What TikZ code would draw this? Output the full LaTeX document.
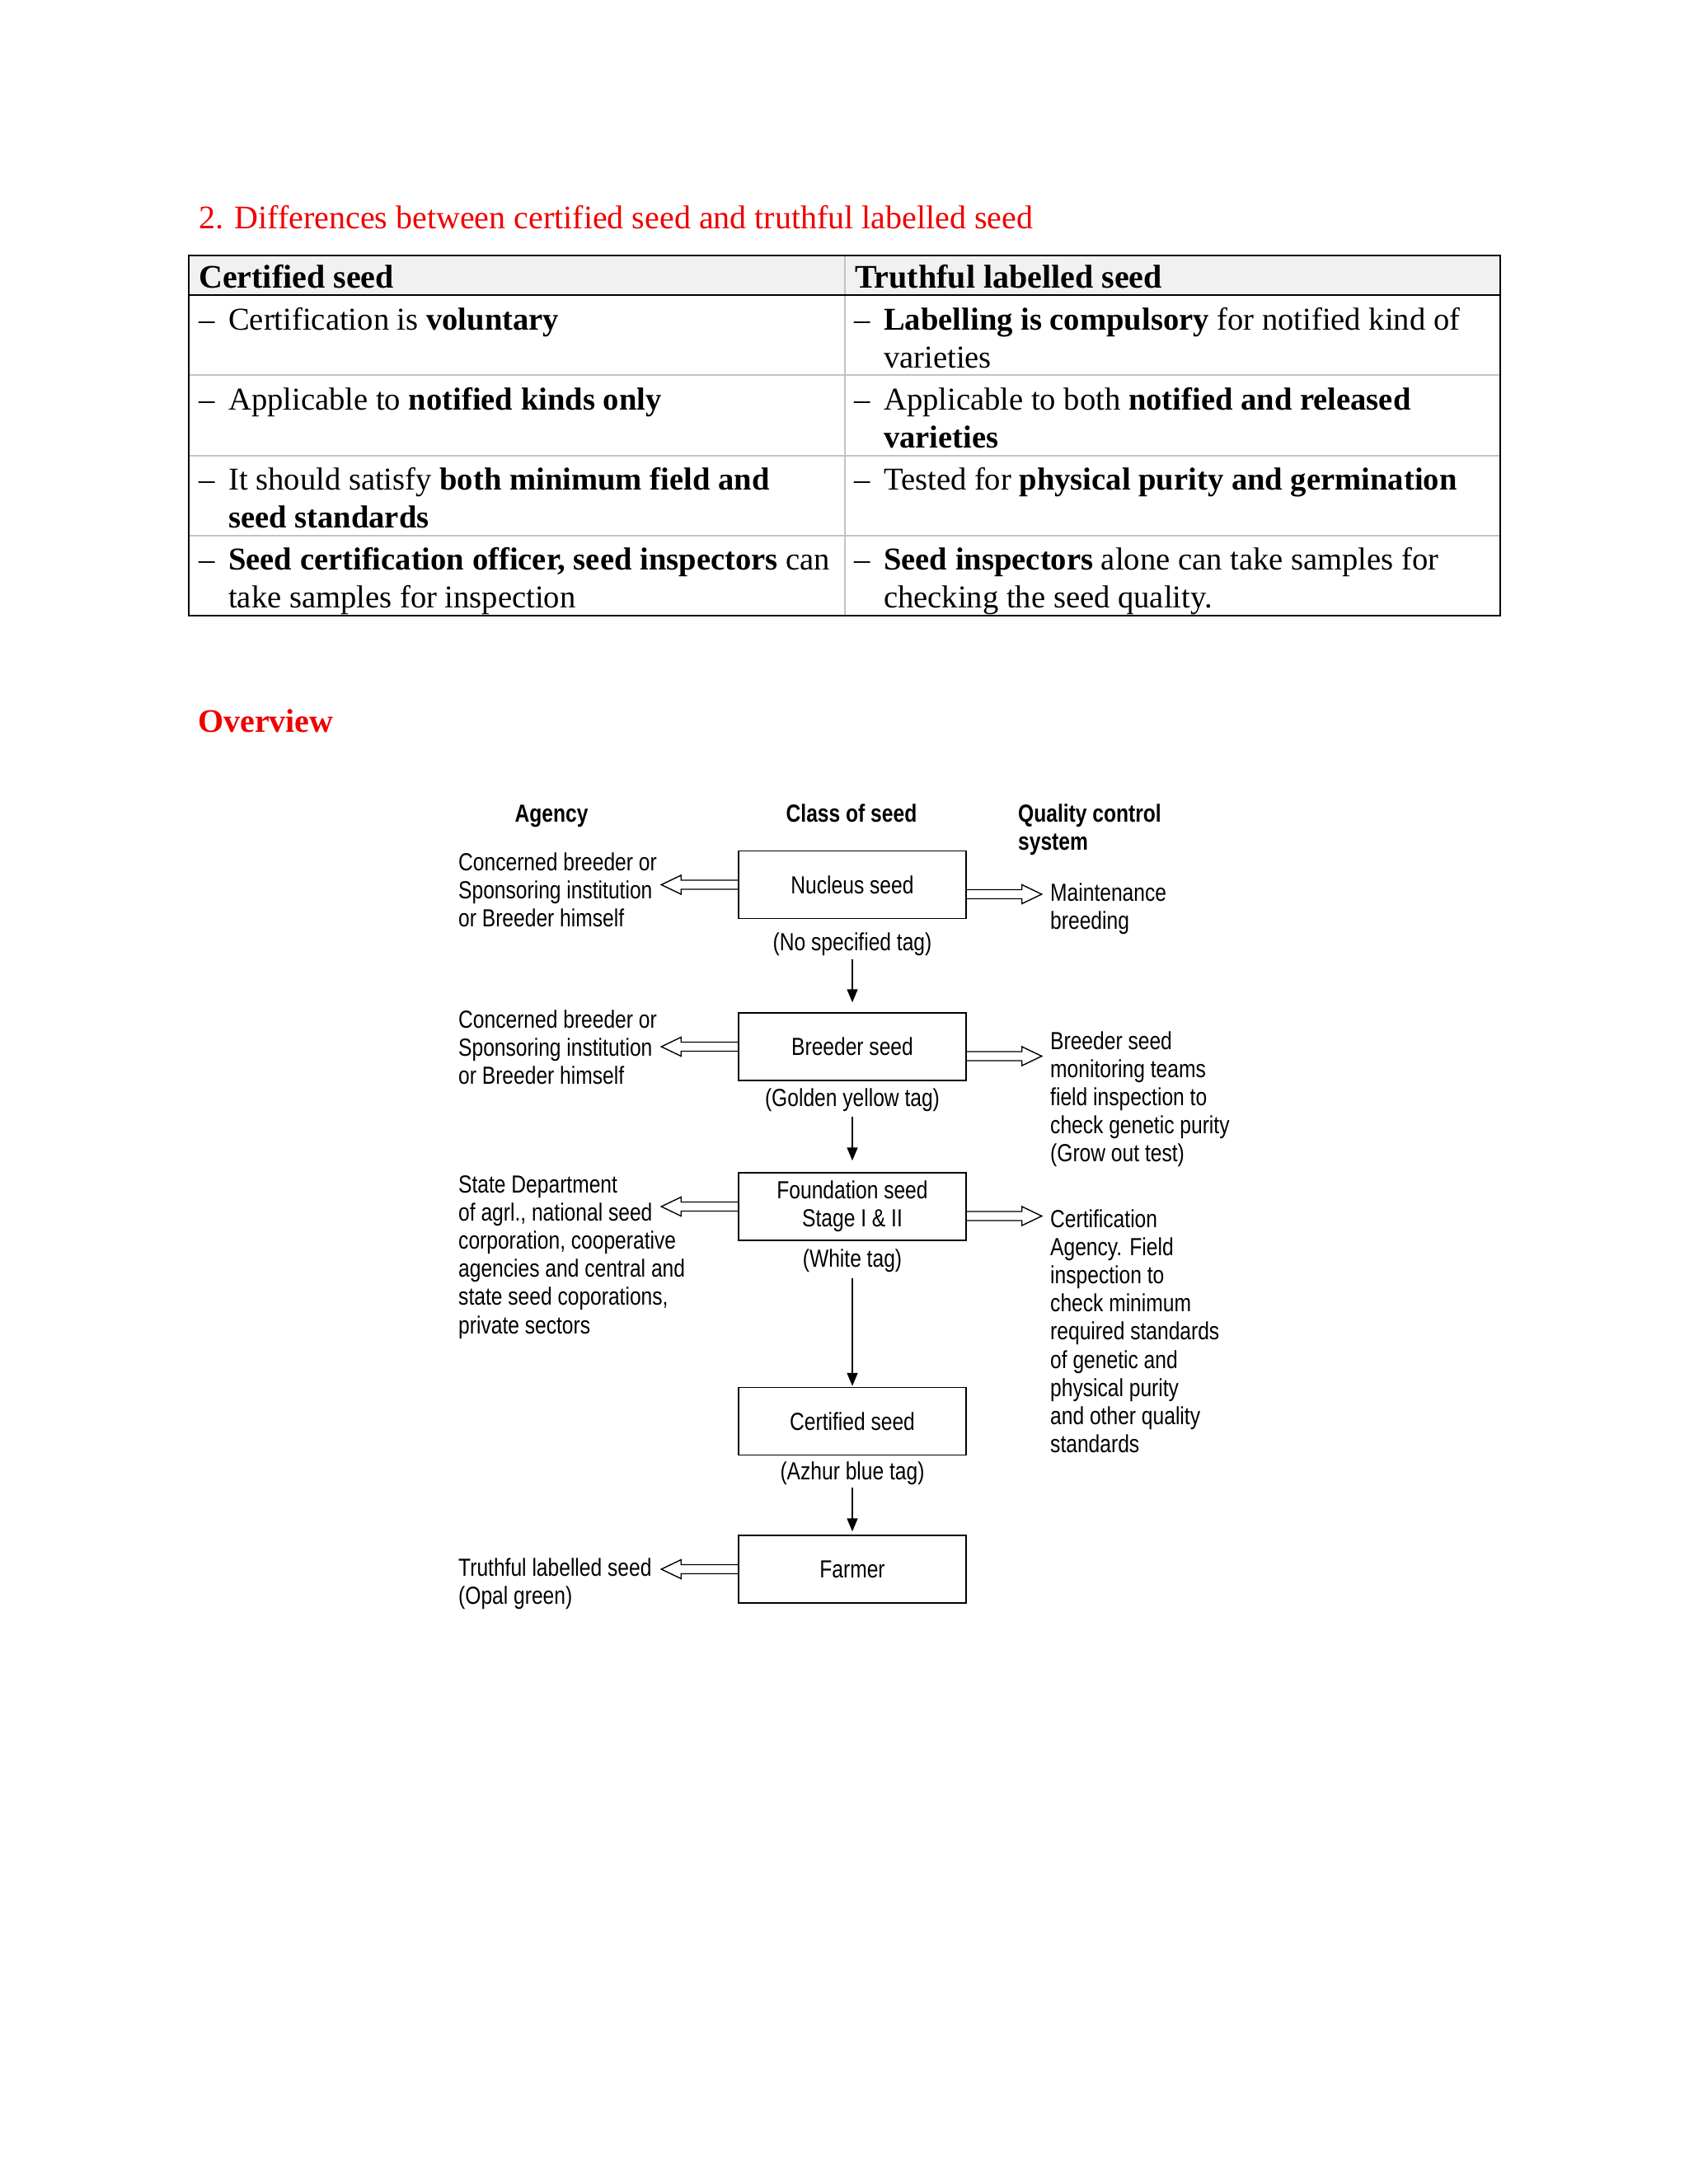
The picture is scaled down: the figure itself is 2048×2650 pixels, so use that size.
\documentclass[tikz,border=0pt]{standalone}
\usepackage{fontspec}
\setmainfont{Liberation Serif}
\newfontfamily\nar[FakeStretch=0.82]{Liberation Sans}
\usetikzlibrary{calc,arrows.meta}
\definecolor{titred}{RGB}{240,0,0}
\definecolor{hdrgray}{RGB}{241,241,241}
\definecolor{rulegray}{RGB}{195,195,195}
\newcommand\lns[1]{\begin{tabular}[t]{@{}l@{}}#1\end{tabular}}
\begin{document}
\begin{tikzpicture}[x=1pt,y=-1pt,
  tt/.style={font=\fontsize{40}{46.5}\selectfont, inner sep=0pt, anchor=base west},
  ttb/.style={font=\bfseries\fontsize{40}{46.5}\selectfont, inner sep=0pt, anchor=base west},
  bt/.style={font=\fontsize{38.6}{46.5}\selectfont, inner sep=0pt, anchor=base west},
  ft/.style={font=\nar\fontsize{30}{34.2}\selectfont, inner sep=0pt},
  ftb/.style={font=\nar\bfseries\fontsize{30}{34.2}\selectfont, inner sep=0pt},
  box/.style={draw, line width=1.5pt, minimum width=276pt, minimum height=82pt,
              font=\nar\fontsize{30}{34.2}\selectfont, align=center, inner sep=0pt},
  flow/.style={line width=1.5pt, -{Triangle[length=16pt,width=13pt]}},
  hollow/.style={line width=1.4pt}]
\fill[white] (0,0) rectangle (2048,2650);
\useasboundingbox (0,0) rectangle (2048,2650);

% ---------- title ----------
\node[tt, text=titred] (title) at (241,277) {2. Differences between certified seed and truthful labelled seed};

% ---------- table ----------
\fill[hdrgray] (229,310) rectangle (1820,358);
\draw[rulegray, line width=1.5pt] (229,455) -- (1820,455) (229,553) -- (1820,553) (229,650) -- (1820,650);
\draw[rulegray, line width=1.3pt] (1025,310) -- (1025,747);
\draw[line width=1.8pt] (229,358) -- (1820,358);
\draw[line width=1.8pt] (229,310) rectangle (1820,747);

\node[ttb] (hl) at (241,349) {Certified seed};
\node[ttb] (hr) at (1037,349) {Truthful labelled seed};

% dashes
\foreach \y [count=\i] in {400,497,594,691} {
  \node[bt] (dl\i) at (241,\y) {--};
  \node[bt] (dr\i) at (1036,\y) {--};
}
\node[bt] (c1l) at (277,400) {Certification is \textbf{voluntary}};
\node[bt] (c1r) at (1072,400) {\lns{\textbf{Labelling is compulsory} for notified kind of\\varieties}};
\node[bt] (c2l) at (277,497) {Applicable to \textbf{notified kinds only}};
\node[bt] (c2r) at (1072,497) {\lns{Applicable to both \textbf{notified and released}\\\textbf{varieties}}};
\node[bt] (c3l) at (277,594) {\lns{It should satisfy \textbf{both minimum field and}\\\textbf{seed standards}}};
\node[bt] (c3r) at (1072,594) {Tested for \textbf{physical purity and germination}};
\node[bt] (c4l) at (277,691) {\lns{\textbf{Seed certification officer, seed inspectors} can\\take samples for inspection}};
\node[bt] (c4r) at (1072,691) {\lns{\textbf{Seed inspectors} alone can take samples for\\checking the seed quality.}};

% ---------- overview ----------
\node[ttb, text=titred] (ov) at (240,888) {Overview};

% column headers
\node[ftb, anchor=base] (hAg) at (669,997) {Agency};
\node[ftb, anchor=base] (hCl) at (1033,997) {Class of seed};
\node[ftb, anchor=base west] (hQc) at (1235,997) {\lns{Quality control\\system}};

% boxes
\node[box] (nuc) at (1034,1073.5) {Nucleus seed};
\node[box] (bre) at (1034,1270) {Breeder seed};
\node[box] (fou) at (1034,1464) {Foundation seed\\Stage I \& II};
\node[box] (cer) at (1034,1724.5) {Certified seed};
\node[box] (far) at (1034,1904) {Farmer};

% tags
\node[ft, anchor=base] (tag1) at (1034,1153) {(No specified tag)};
\node[ft, anchor=base] (tag2) at (1034,1342) {(Golden yellow tag)};
\node[ft, anchor=base] (tag3) at (1034,1537) {(White tag)};
\node[ft, anchor=base] (tag4) at (1034,1795) {(Azhur blue tag)};

% agency texts
\node[ft, anchor=base west] (agN) at (556,1056) {\lns{Concerned breeder or\\Sponsoring institution\\or Breeder himself}};
\node[ft, anchor=base west] (agB) at (556,1247) {\lns{Concerned breeder or\\Sponsoring institution\\or Breeder himself}};
\node[ft, anchor=base west] (agF) at (556,1447) {\lns{State Department\\of agrl., national seed\\corporation, cooperative\\agencies and central and\\state seed coporations,\\private sectors}};
\node[ft, anchor=base west] (agT) at (556,1912) {\lns{Truthful labelled seed\\(Opal green)}};

% quality control texts
\node[ft, anchor=base west] (qcN) at (1274,1093) {\lns{Maintenance\\breeding}};
\node[ft, anchor=base west] (qcB) at (1274,1273) {\lns{Breeder seed\\monitoring teams\\field inspection to\\check genetic purity\\(Grow out test)}};
\node[ft, anchor=base west] (qcF) at (1274,1489) {\lns{Certification\\Agency. Field\\inspection to\\check minimum\\required standards\\of genetic and\\physical purity\\and other quality\\standards}};

% vertical flow arrows
\draw[flow] ([yshift=-5pt]tag1.south) -- ([yshift=12pt]bre.north);
\draw[flow] ([yshift=-7pt]tag2.south) -- ([yshift=14pt]fou.north);
\draw[flow] ([yshift=-8pt]tag3.south) -- ([yshift=1pt]cer.north);
\draw[flow] ([yshift=-4pt]tag4.south) -- ([yshift=4pt]far.north);

% hollow arrows to the agency (left)
\foreach \n in {nuc,bre,fou,far} {
  \coordinate (\n L) at ($(\n.west)+(-93,0)$);
  \draw[hollow] ($(\n.west)+(0,-5.5)$) -- ($(\n L)+(24,-5.5)$) -- ($(\n L)+(24,-11.5)$)
     -- (\n L) -- ($(\n L)+(24,11.5)$) -- ($(\n L)+(24,5.5)$) -- ($(\n.west)+(0,5.5)$);
}
% hollow arrows to the quality control system (right)
\foreach \n in {nuc,bre,fou} {
  \coordinate (\n S) at ($(\n.east)+(0,11.5)$);
  \coordinate (\n R) at ($(\n S)+(91,0)$);
  \draw[hollow] ($(\n S)+(0,-5.5)$) -- ($(\n R)+(-24,-5.5)$) -- ($(\n R)+(-24,-11.5)$)
     -- (\n R) -- ($(\n R)+(-24,11.5)$) -- ($(\n R)+(-24,5.5)$) -- ($(\n S)+(0,5.5)$);
}
\end{tikzpicture}
\end{document}
